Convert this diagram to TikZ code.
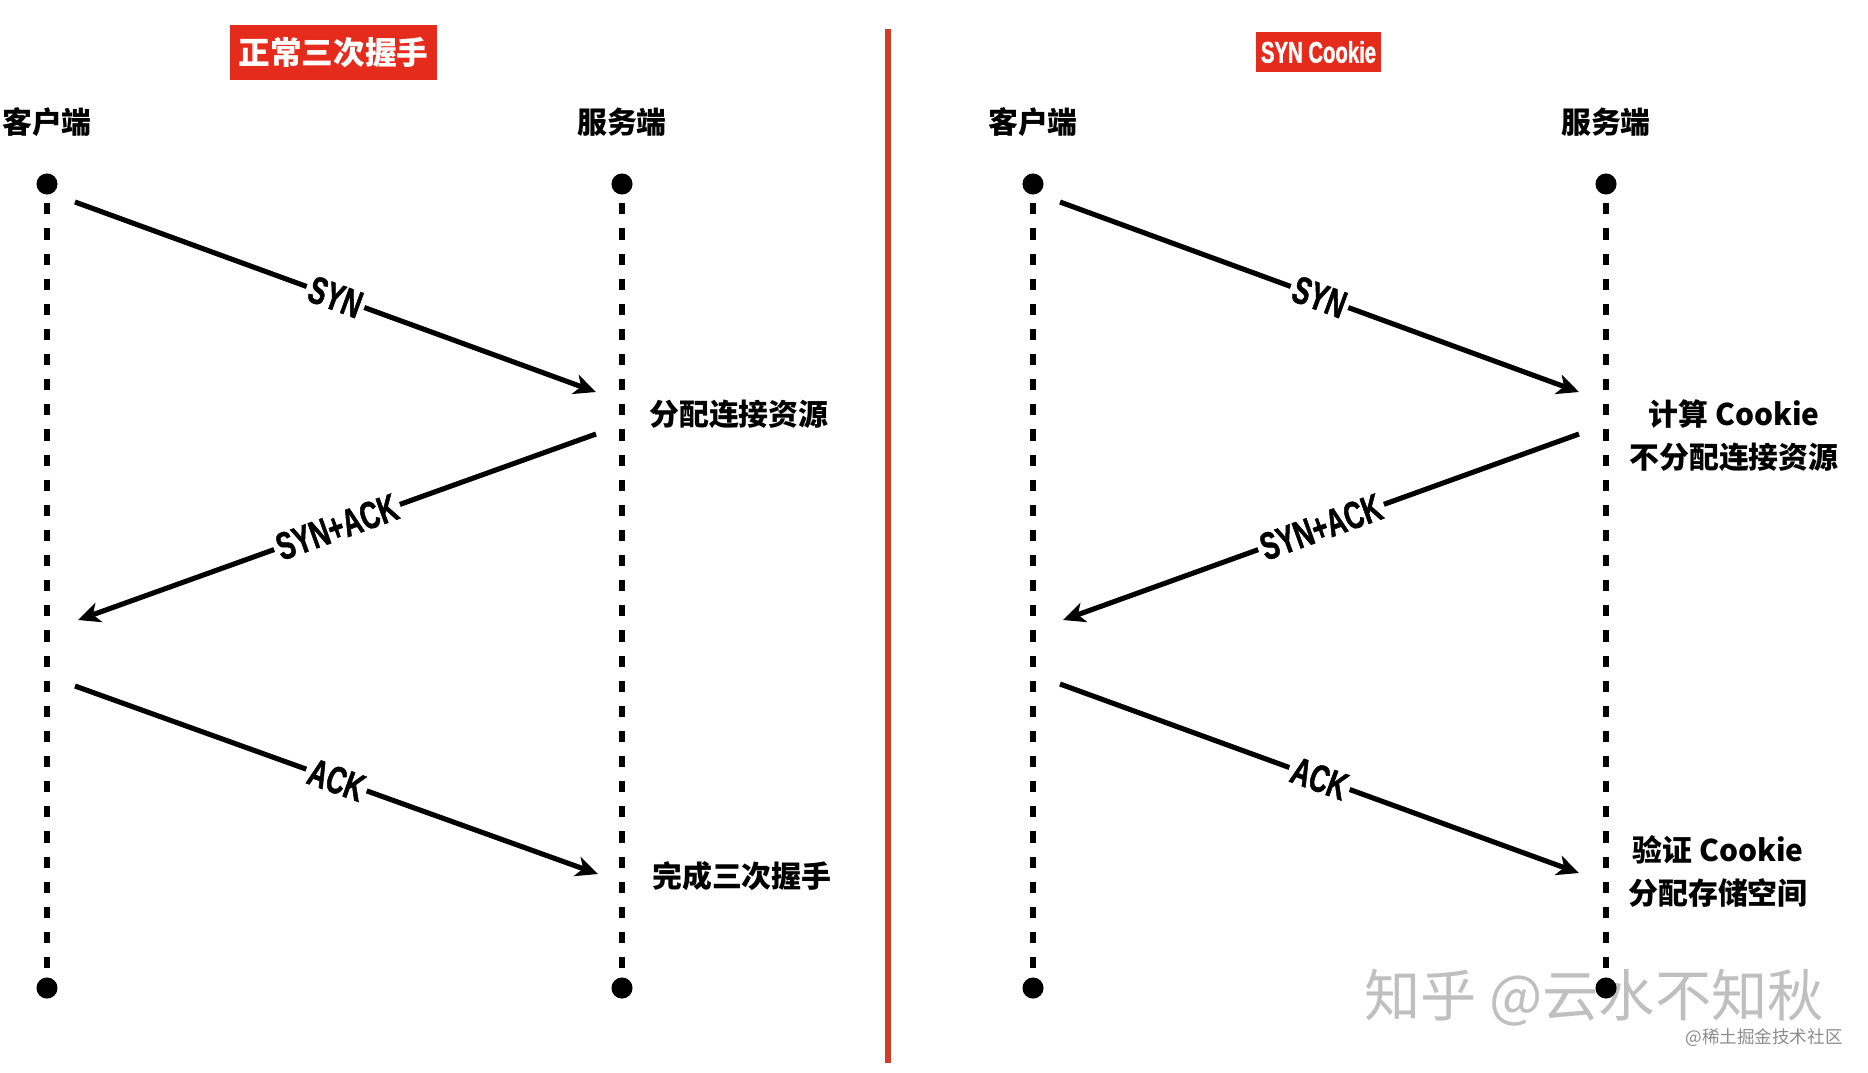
\documentclass[tikz,border=0pt]{standalone}
\usepackage{fontspec}
\usetikzlibrary{arrows.meta,positioning}
\newfontfamily\cjk{Noto Sans CJK SC}
\newfontfamily\condfont{Liberation Sans Bold}[FakeStretch=0.68, FakeBold=1.2]
\definecolor{tagred}{RGB}{229,43,27}
\definecolor{divred}{RGB}{210,60,37}
\begin{document}
\begin{tikzpicture}[x=0.02cm, y=-0.02cm,
  lifedot/.style={circle, fill=black, minimum size=12pt, inner sep=0pt},
  lifeline/.style={line width=3.4pt, dash pattern=on 6.3pt off 8pt, dash phase=9.5pt},
  msg/.style={line width=2.9pt, -{Stealth[length=12.5pt, width=11.5pt, inset=3.5pt]}},
  msglbl/.style={sloped, fill=white, inner sep=2pt, font=\condfont\fontsize{22}{24}\selectfont},
  hdr/.style={font=\cjk\bfseries\fontsize{17}{20}\selectfont},
  note/.style={inner sep=0pt, align=center, font=\cjk\bfseries\fontsize{17}{24.5}\selectfont},
  tag/.style={fill=tagred, text=white, inner sep=0pt}]

  \useasboundingbox (0,0) rectangle (1868,1072);

  % titles
  \node[tag, minimum width=117.8pt, minimum height=31.3pt, font=\cjk\bfseries\fontsize{18}{20}\selectfont] (t1) at (333.5,52.5) {正常三次握手};
  \node[tag, minimum width=71.1pt, minimum height=22.8pt, font=\condfont\fontsize{17}{18}\selectfont] (t2) at (1318.5,52) {SYN Cookie};

  % divider
  \draw[divred, line width=3.4pt] (888,29) -- (888,1063);

  % watermark
  \node[font=\cjk\fontsize{32}{35}\selectfont, text=black!25] (wm1) at (1594,998) {知乎 @云水不知秋};
  \node[font=\cjk\fontsize{10}{12}\selectfont, text=black!45] (wm2) at (1764,1038) {@稀土掘金技术社区};

  % left: normal handshake
  \node[lifedot] (c1t) at (47,184) {};
  \node[lifedot] (s1t) at (622,184) {};
  \node[lifedot] (c1b) at (47,988) {};
  \node[lifedot] (s1b) at (622,988) {};
  \node[hdr, above=17.5pt of c1t] (h1c) {客户端};
  \node[hdr, above=17.5pt of s1t] (h1s) {服务端};
  \draw[lifeline] (c1t) -- (c1b);
  \draw[lifeline] (s1t) -- (s1b);

  \coordinate (a1) at (75,202);
  \coordinate (a2) at (596,392);
  \coordinate (b1) at (596,434);
  \coordinate (b2) at (78,620);
  \coordinate (k1) at (75,686);
  \coordinate (k2) at (598,874);
  \draw[msg] (a1) -- node[msglbl] {SYN} (a2);
  \draw[msg] (b1) -- node[msglbl] {SYN+ACK} (b2);
  \draw[msg] (k1) -- node[msglbl] {ACK} (k2);

  \node[note, anchor=west] (n1) at (649,414) {分配连接资源};
  \node[note, anchor=west] (n2) at (652,876) {完成三次握手};

  % right: syn cookie
  \node[lifedot] (c2t) at (1033,184) {};
  \node[lifedot] (s2t) at (1606,184) {};
  \node[lifedot] (c2b) at (1033,988) {};
  \node[lifedot] (s2b) at (1606,988) {};
  \node[hdr, above=17.5pt of c2t] (h2c) {客户端};
  \node[hdr, above=17.5pt of s2t] (h2s) {服务端};
  \draw[lifeline] (c2t) -- (c2b);
  \draw[lifeline] (s2t) -- (s2b);

  \coordinate (a3) at (1060,202);
  \coordinate (a4) at (1579,392);
  \coordinate (b3) at (1579,434);
  \coordinate (b4) at (1063,620);
  \coordinate (k3) at (1060,684);
  \coordinate (k4) at (1579,873);
  \draw[msg] (a3) -- node[msglbl] {SYN} (a4);
  \draw[msg] (b3) -- node[msglbl] {SYN+ACK} (b4);
  \draw[msg] (k3) -- node[msglbl] {ACK} (k4);

  \node[note] (n3) at (1734,436) {计算 Cookie\\不分配连接资源};
  \node[note] (n4) at (1718,871) {验证 Cookie\\分配存储空间};

\end{tikzpicture}
\end{document}
